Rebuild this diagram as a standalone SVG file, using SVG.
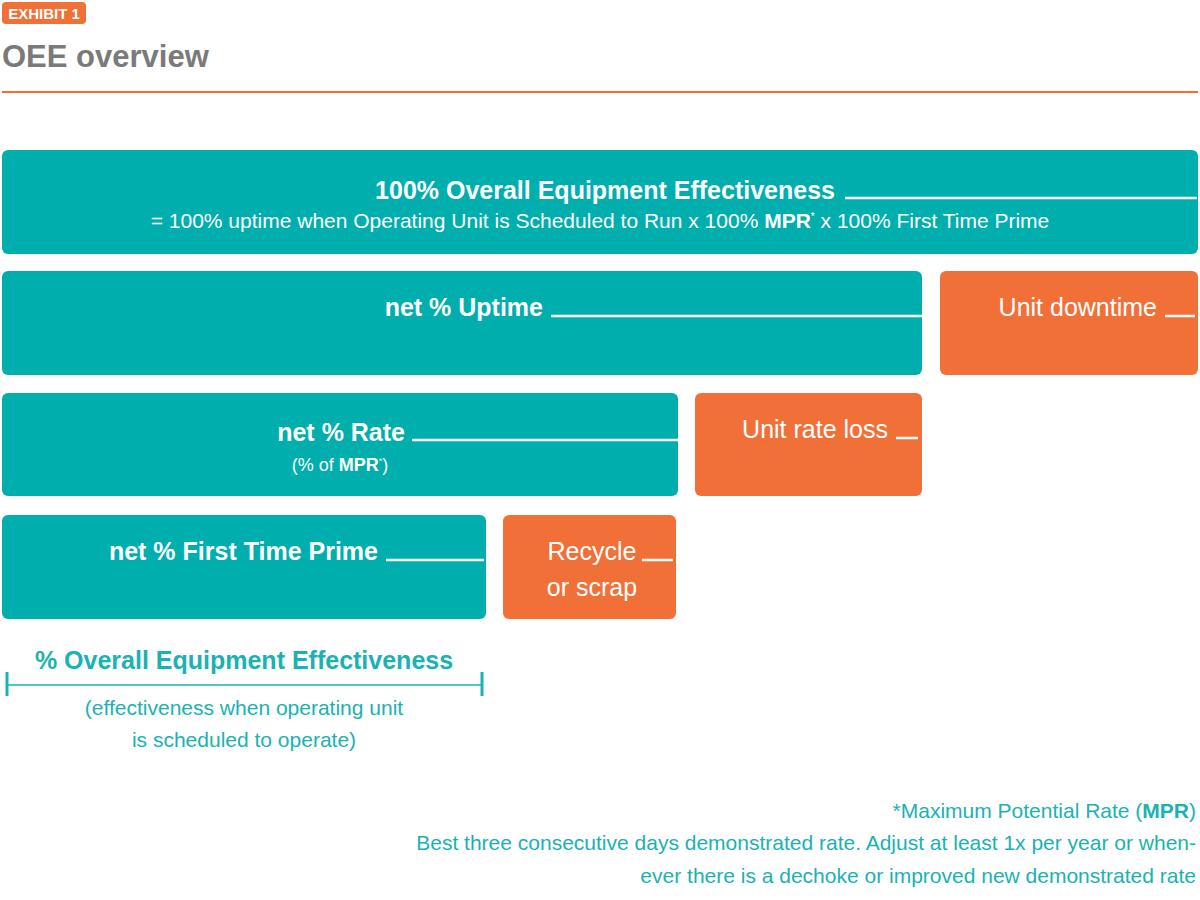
<svg xmlns="http://www.w3.org/2000/svg" width="1200" height="900" viewBox="0 0 1200 900">
<style>
text{font-family:"Liberation Sans","Open Sans",sans-serif}
.t{fill:#00AEAE}.o{fill:#F07038}
.w{fill:#fff;font-size:25px}
.b{font-weight:bold}
.ln{stroke:#fff;stroke-width:2.5}
.c{fill:#1AB2B2}
</style>
<rect width="1200" height="900" fill="#fff"/>
<rect x="2" y="2" width="84" height="22" rx="4" class="o"/>
<text x="44" y="19" text-anchor="middle" fill="#fff" font-size="15" font-weight="bold">EXHIBIT 1</text>
<text x="2" y="67" fill="#7a7a7a" font-size="31" font-weight="bold">OEE overview</text>
<line x1="2" y1="92" x2="1198" y2="92" stroke="#F07038" stroke-width="2"/>
<g id="oee100">
<rect x="2" y="150" width="1196" height="104" rx="6" class="t"/>
<text x="835" y="199" text-anchor="end" class="w b">100% Overall Equipment Effectiveness</text>
<line x1="845" y1="198" x2="1197" y2="198" class="ln"/>
<text x="600" y="228" text-anchor="middle" fill="#fff" font-size="21">= 100% uptime when Operating Unit is Scheduled to Run x 100% <tspan font-weight="bold">MPR</tspan><tspan font-size="10" dy="-8">*</tspan><tspan dy="8"> x 100% First Time Prime</tspan></text>
</g>
<g id="uptime">
<rect x="2" y="271" width="920" height="104" rx="6" class="t"/>
<text x="543" y="316" text-anchor="end" class="w b">net % Uptime</text>
<line x1="551" y1="316" x2="922" y2="316" class="ln"/>
</g>
<g id="downtime">
<rect x="940" y="271" width="258" height="104" rx="6" class="o"/>
<text x="1157" y="316" text-anchor="end" class="w" font-size="26">Unit downtime</text>
<line x1="1165" y1="316" x2="1195" y2="316" class="ln"/>
</g>
<g id="rate">
<rect x="2" y="393" width="676" height="103" rx="6" class="t"/>
<text x="405" y="441" text-anchor="end" class="w b">net % Rate</text>
<line x1="412" y1="440" x2="678" y2="440" class="ln"/>
<text x="340" y="471" text-anchor="middle" fill="#fff" font-size="18">(% of <tspan font-weight="bold">MPR</tspan><tspan font-size="9" dy="-7">*</tspan><tspan dy="7">)</tspan></text>
</g>
<g id="rateloss">
<rect x="695" y="393" width="227" height="103" rx="6" class="o"/>
<text x="888" y="438" text-anchor="end" class="w">Unit rate loss</text>
<line x1="896" y1="438" x2="918" y2="438" class="ln"/>
</g>
<g id="ftp">
<rect x="2" y="515" width="484" height="104" rx="6" class="t"/>
<text x="378" y="560" text-anchor="end" class="w b">net % First Time Prime</text>
<line x1="386" y1="560" x2="484" y2="560" class="ln"/>
</g>
<g id="recycle">
<rect x="503" y="515" width="173" height="104" rx="6" class="o"/>
<text x="592" y="560" text-anchor="middle" class="w">Recycle</text>
<text x="592" y="596" text-anchor="middle" class="w">or scrap</text>
<line x1="642" y1="560" x2="673" y2="560" class="ln"/>
</g>
<g id="connectors">
<line x1="7" y1="685" x2="482" y2="685" stroke="#1AB2B2" stroke-width="1.5"/>
<line x1="7" y1="672" x2="7" y2="696" stroke="#1AB2B2" stroke-width="3"/>
<line x1="482" y1="672" x2="482" y2="696" stroke="#1AB2B2" stroke-width="3"/>
</g>
<g id="oeelabel">
<text x="244" y="669" text-anchor="middle" class="c" font-size="25" font-weight="bold">% Overall Equipment Effectiveness</text>
<text x="244" y="715" text-anchor="middle" class="c" font-size="21">(effectiveness when operating unit</text>
<text x="244" y="747" text-anchor="middle" class="c" font-size="21">is scheduled to operate)</text>
</g>
<g id="footnote" class="c" font-size="21">
<text x="1196" y="818" text-anchor="end">*Maximum Potential Rate (<tspan font-weight="bold">MPR</tspan>)</text>
<text x="1196" y="850" text-anchor="end">Best three consecutive days demonstrated rate. Adjust at least 1x per year or when-</text>
<text x="1196" y="883" text-anchor="end">ever there is a dechoke or improved new demonstrated rate</text>
</g>
</svg>
